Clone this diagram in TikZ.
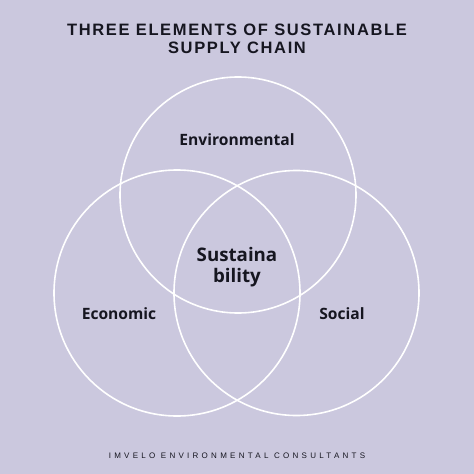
\documentclass[tikz,border=0pt]{standalone}
\usepackage{fontspec}
\setmainfont{Open Sans}
\newfontfamily\titlefont[LetterSpace=10]{Liberation Sans}
\newfontfamily\footfont[LetterSpace=41]{Liberation Sans}
\definecolor{bgc}{RGB}{203,200,222}
\definecolor{txt}{RGB}{22,22,32}
\tikzset{
  ring/.style={draw=white, line width=1.6pt},
  lbl/.style={text=txt, font=\fontsize{15.6}{17}\selectfont\bfseries, inner sep=0pt},
}
\begin{document}
\begin{tikzpicture}[x=1pt,y=-1pt]
\fill[bgc] (0,0) rectangle (474,474);
\useasboundingbox (0,0) rectangle (474,474);
\draw[ring] (238,195) circle[radius=118];
\draw[ring] (177,293) circle[radius=123];
\draw[ring] (296.5,293) circle[radius=122.5];
\node[text=txt, align=center, inner sep=0pt, font=\titlefont\fontsize{16.5}{18}\selectfont\bfseries] (title) at (237,39) {THREE ELEMENTS OF SUSTAINABLE\\SUPPLY CHAIN};
\node[lbl] (env) at (237,139.5) {Environmental};
\node[lbl] (eco) at (119,314) {Economic};
\node[lbl] (soc) at (342,314) {Social};
\node[text=txt, align=center, inner sep=0pt, font=\fontsize{18.7}{20.5}\selectfont\bfseries] (sus) at (237,267) {Sustaina\\bility};
\node[text=txt, inner sep=0pt, font=\footfont\fontsize{8}{9}\selectfont] (foot) at (237,456) {IMVELO ENVIRONMENTAL CONSULTANTS};
\end{tikzpicture}
\end{document}
